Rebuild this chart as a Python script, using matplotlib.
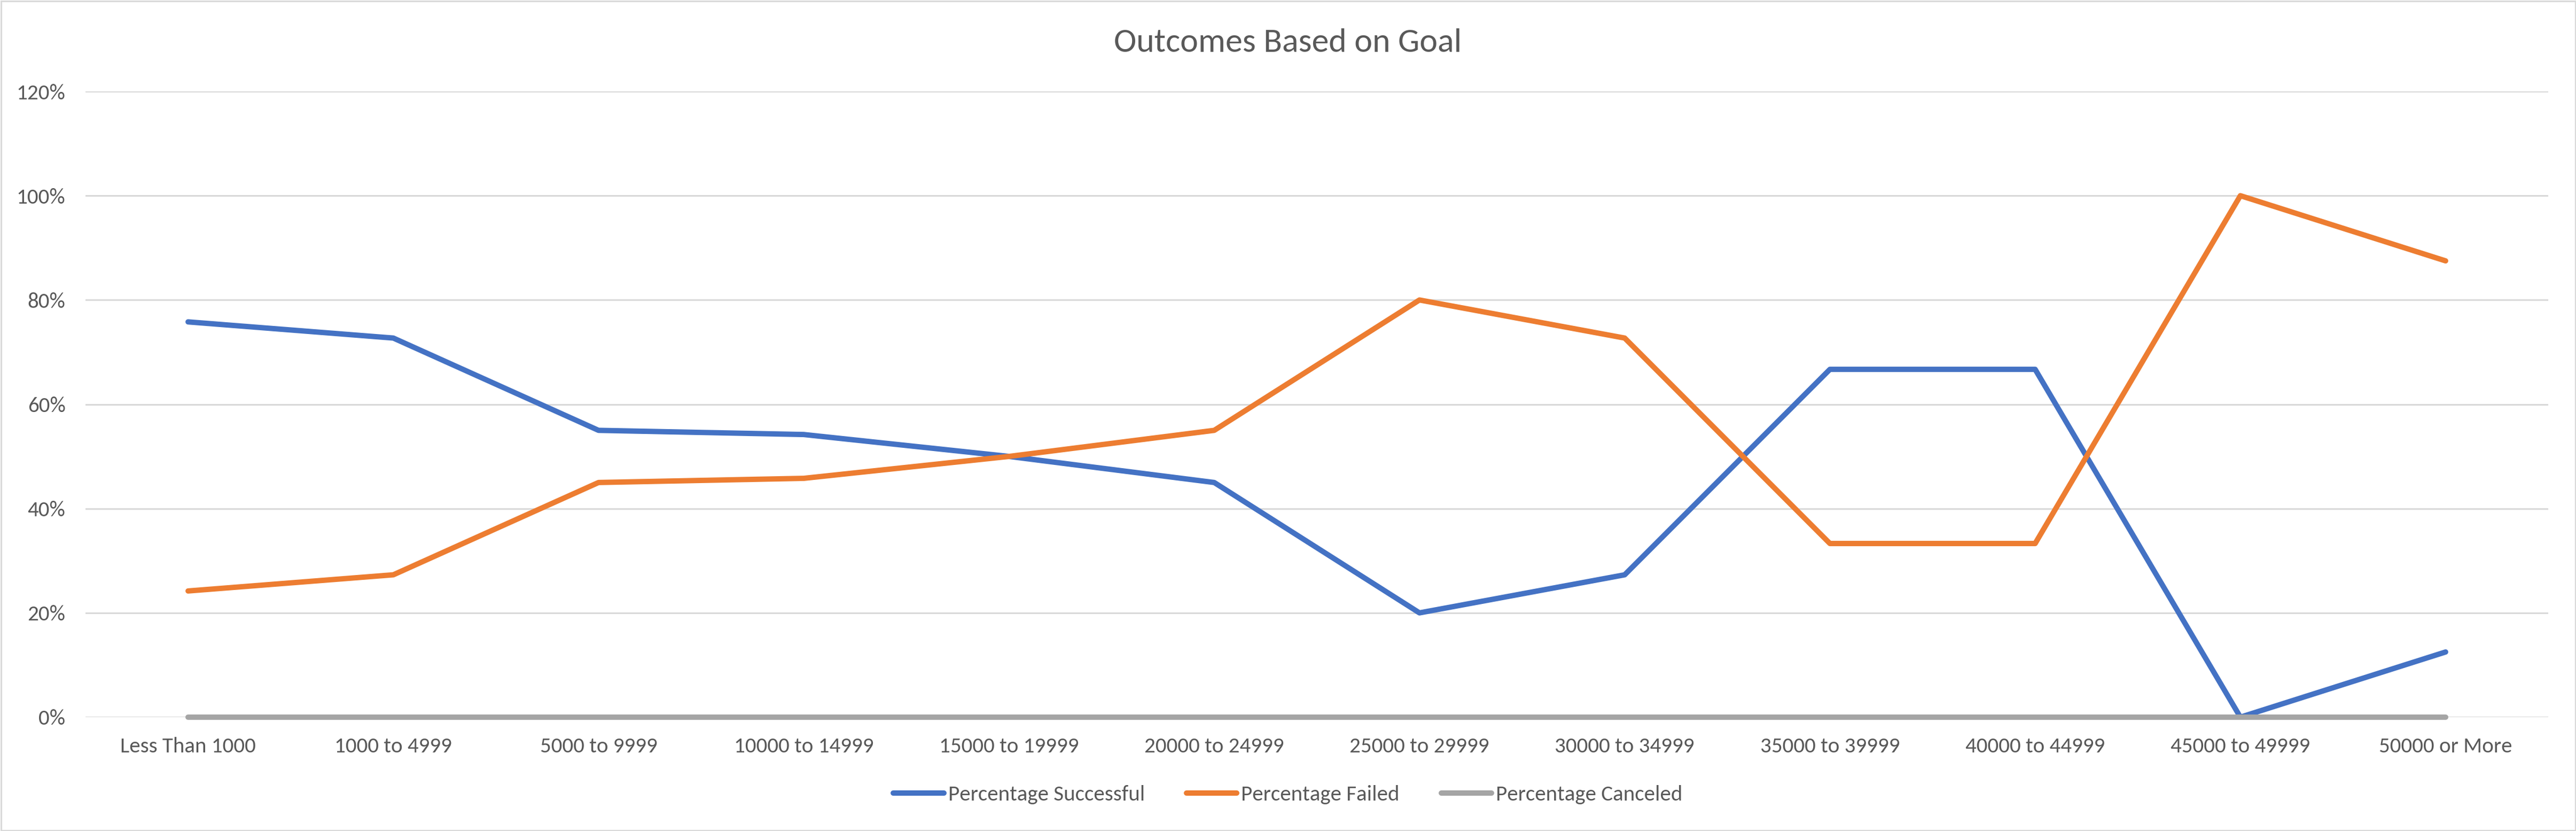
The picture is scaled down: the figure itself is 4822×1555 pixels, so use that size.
import matplotlib
matplotlib.use("Agg")
import matplotlib.pyplot as plt
from matplotlib.patches import Rectangle
from matplotlib.ticker import PercentFormatter

categories = ["Less Than 1000", "1000 to 4999", "5000 to 9999", "10000 to 14999",
              "15000 to 19999", "20000 to 24999", "25000 to 29999", "30000 to 34999",
              "35000 to 39999", "40000 to 44999", "45000 to 49999", "50000 or More"]
pct_successful = [0.758, 0.727, 0.550, 0.542, 0.500, 0.450, 0.200, 0.273, 0.667, 0.667, 0.000, 0.125]
pct_failed = [0.242, 0.273, 0.450, 0.458, 0.500, 0.550, 0.800, 0.727, 0.333, 0.333, 1.000, 0.875]
pct_canceled = [0.0] * 12
series_names = ["Percentage Successful", "Percentage Failed", "Percentage Canceled"]
y_ticks = [0, 0.2, 0.4, 0.6, 0.8, 1.0, 1.2]

FONT = ["Carlito", "Liberation Sans Narrow", "DejaVu Sans"]
plt.rcParams["font.family"] = FONT
TXT = "#595959"

W, H = 4822, 1555
fig = plt.figure(figsize=(W / 100, H / 100), dpi=100)
ax = fig.add_axes([160 / W, 1 - 1342 / H, (4770 - 160) / W, (1342 - 171) / H])

x = list(range(len(categories)))
colors = ["#4472C4", "#ED7D31", "#A5A5A5"]
for vals, name, c in zip([pct_successful, pct_failed, pct_canceled], series_names, colors):
    ax.plot(x, vals, color=c, lw=7.2, label=name, solid_capstyle="round",
            solid_joinstyle="round", zorder=3, clip_on=False)

ax.set_xlim(-0.5, len(categories) - 0.5)
ax.set_ylim(0, 1.2)
ax.set_yticks(y_ticks)
ax.yaxis.set_major_formatter(PercentFormatter(1.0, decimals=0))
ax.set_xticks(x)
ax.set_xticklabels(categories)
ax.grid(axis="y", color="#D9D9D9", lw=2.2, zorder=0)
ax.set_axisbelow(True)
for s in ax.spines.values():
    s.set_visible(False)
ax.tick_params(axis="both", length=0, colors=TXT, labelsize=29.5)
ax.tick_params(axis="y", pad=27)
ax.tick_params(axis="x", pad=27)

fig.text(0.5, 1 - 97 / H, "Outcomes Based on Goal", ha="center", va="baseline",
         fontsize=46, color=TXT)

leg = fig.legend(loc="center", bbox_to_anchor=(0.5, 1 - 1487 / H), ncol=3, frameon=False,
                 fontsize=29.5, handlelength=2.3, handletextpad=0.2, columnspacing=1.9,
                 labelcolor=TXT)

fig.patches.append(Rectangle((1.5 / W, 1.5 / H), 1 - 3 / W, 1 - 3 / H, transform=fig.transFigure,
                             fill=False, edgecolor="#D9D9D9", lw=2.2))

fig.savefig("out.png", dpi=100, facecolor="white")
